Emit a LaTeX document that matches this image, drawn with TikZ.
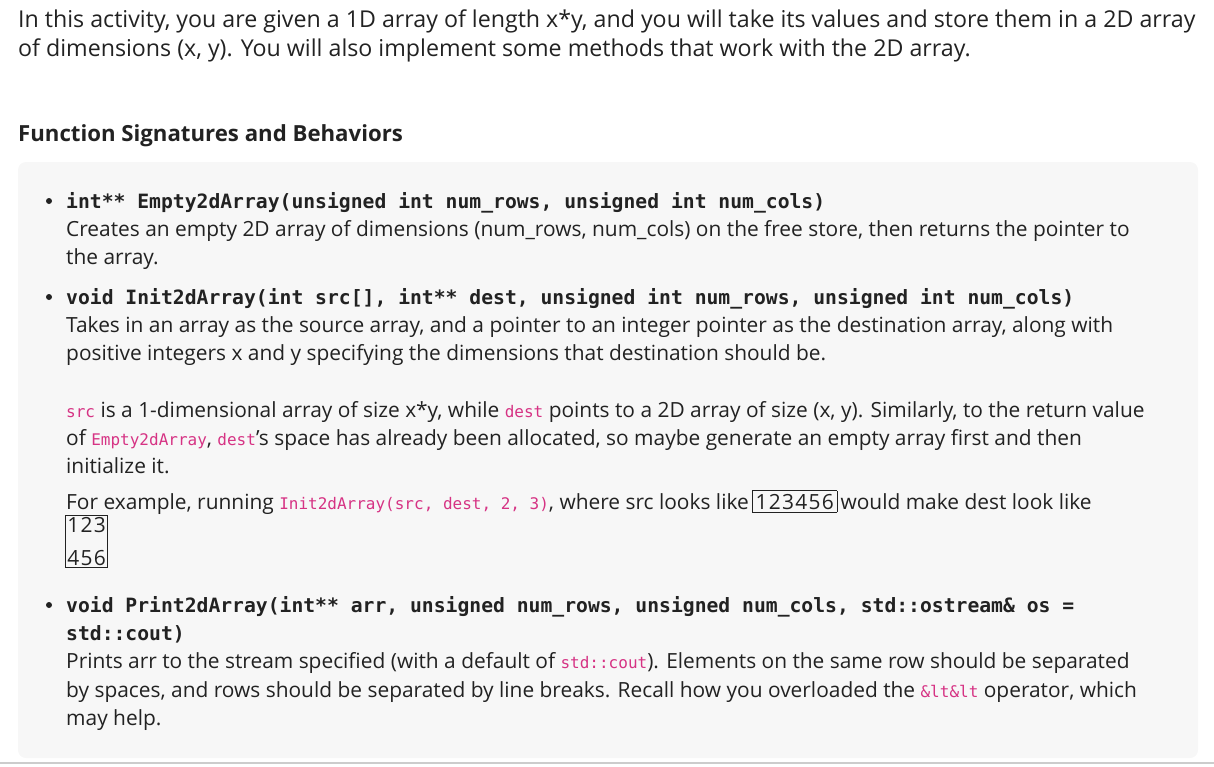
\documentclass[tikz,border=0pt]{standalone}
\usepackage{fontspec}
\setmainfont{Open Sans}
\newfontfamily\codefont{DejaVu Sans Mono}
\definecolor{pinkc}{HTML}{D63384}
\definecolor{txt}{HTML}{222222}
\definecolor{boxbg}{HTML}{F7F7F7}
\newcommand{\ic}[1]{{\codefont\fontsize{16}{16}\selectfont\color{pinkc}#1}}
\newcommand{\sig}[1]{{\codefont\bfseries\fontsize{19.7}{20}\selectfont #1}}
\newcommand{\dig}[1]{\,\fbox{\addfontfeature{LetterSpace=6}#1}\,}
\begin{document}
\begin{tikzpicture}[x=1pt,y=-1pt,
  ln/.style={anchor=base west,inner sep=0pt,text=txt,font=\fontsize{23.2}{23}\selectfont},
  bx/.style={ln,font=\fontsize{20.9}{21}\selectfont},
  bul/.style={circle,fill=txt,inner sep=0pt,minimum size=6pt}]
\useasboundingbox (0,0) rectangle (1214,766);
\fill[boxbg,rounded corners=8pt] (18,162) rectangle (1198,758);
\draw[gray!40,line width=1.2pt] (0,763) -- (1214,763);
\node[ln] (p1) at (18,27) {In this activity, you are given a 1D array of length x*y, and you will take its values and store them in a 2D array};
\node[ln] (p2) at (18,56) {of dimensions (x, y). You will also implement some methods that work with the 2D array.};
\node[ln,font=\bfseries\fontsize{22.2}{22}\selectfont] (h) at (18,141) {Function Signatures and Behaviors};
\node[bul] (b1) at (49,201) {};
\node[bx] (s1) at (66,208) {\sig{int** Empty2dArray(unsigned int num\_rows, unsigned int num\_cols)}};
\node[bx] (t1) at (66,236) {Creates an empty 2D array of dimensions (num\_rows, num\_cols) on the free store, then returns the pointer to};
\node[bx] (t2) at (66,264) {the array.};
\node[bul] (b2) at (49,297) {};
\node[bx] (s2) at (66,304) {\sig{void Init2dArray(int src[], int** dest, unsigned int num\_rows, unsigned int num\_cols)}};
\node[bx] (t3) at (66,332) {Takes in an array as the source array, and a pointer to an integer pointer as the destination array, along with};
\node[bx] (t4) at (66,360) {positive integers x and y specifying the dimensions that destination should be.};
\node[bx] (t5) at (66,417) {\ic{src} is a 1-dimensional array of size x*y, while \ic{dest} points to a 2D array of size (x, y). Similarly, to the return value};
\node[bx] (t6) at (66,445) {of \ic{Empty2dArray}, \ic{dest}'s space has already been allocated, so maybe generate an empty array first and then};
\node[bx] (t7) at (66,473) {initialize it.};
\node[bx] (t8) at (66,509) {For example, running \ic{Init2dArray(src, dest, 2, 3)}, where src looks like\dig{123456}would make dest look like};
\node[bx,anchor=north west,draw=txt,line width=0.8pt,inner sep=2pt,align=left,font=\addfontfeature{LetterSpace=6}\fontsize{20.9}{33}\selectfont] (arr) at (65,515) {123\\456};
\node[bul] (b3) at (49,605) {};
\node[bx] (s3) at (66,612) {\sig{void Print2dArray(int** arr, unsigned num\_rows, unsigned num\_cols, std::ostream\& os =}};
\node[bx] (s4) at (66,640) {\sig{std::cout)}};
\node[bx] (t9) at (66,668) {Prints arr to the stream specified (with a default of \ic{std::cout}). Elements on the same row should be separated};
\node[bx] (t10) at (66,697) {by spaces, and rows should be separated by line breaks. Recall how you overloaded the \ic{\&lt\&lt} operator, which};
\node[bx] (t11) at (66,725) {may help.};
\end{tikzpicture}
\end{document}
